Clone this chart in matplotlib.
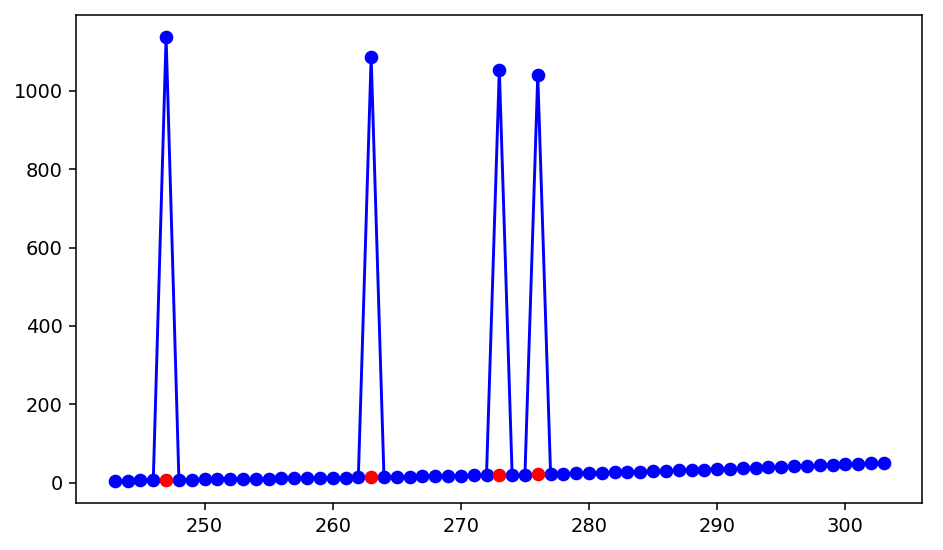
import matplotlib
matplotlib.use('Agg')
import matplotlib.pyplot as plt
import numpy as np

x = list(range(243, 304))
y = [5, 5.5, 6, 6.5, 1138, 7.5, 8, 8.5, 9, 9, 9.5, 10, 10.5, 11, 11, 11.5, 12, 12.5, 13, 13.5,
     1087, 14.5, 15, 15.5, 16, 16.5, 17, 18, 18.5, 19, 1054, 20.5, 21, 1041, 22, 23, 24, 25,
     26, 27, 28, 28.5, 29.5, 30.5, 31.5, 32.5, 33.5, 35, 36, 37, 38, 39.5, 40.5, 42, 43, 44.5,
     46, 47, 48.5, 50, 51.5]

# points where the spikes were replaced
fix_x = [247, 263, 273, 276]
fix_y = [7, 14, 20, 21.5]

fig = plt.figure(figsize=(943 / 140, 550 / 140), dpi=140)
ax = fig.add_axes([0.081, 0.0855, 0.897, 0.888])
ax.plot(x, y, 'bo-')
ax.plot(fix_x, fix_y, 'ro')
ax.set_xticks([250, 260, 270, 280, 290, 300])
ax.set_yticks([0, 200, 400, 600, 800, 1000])
plt.savefig('out.png')
